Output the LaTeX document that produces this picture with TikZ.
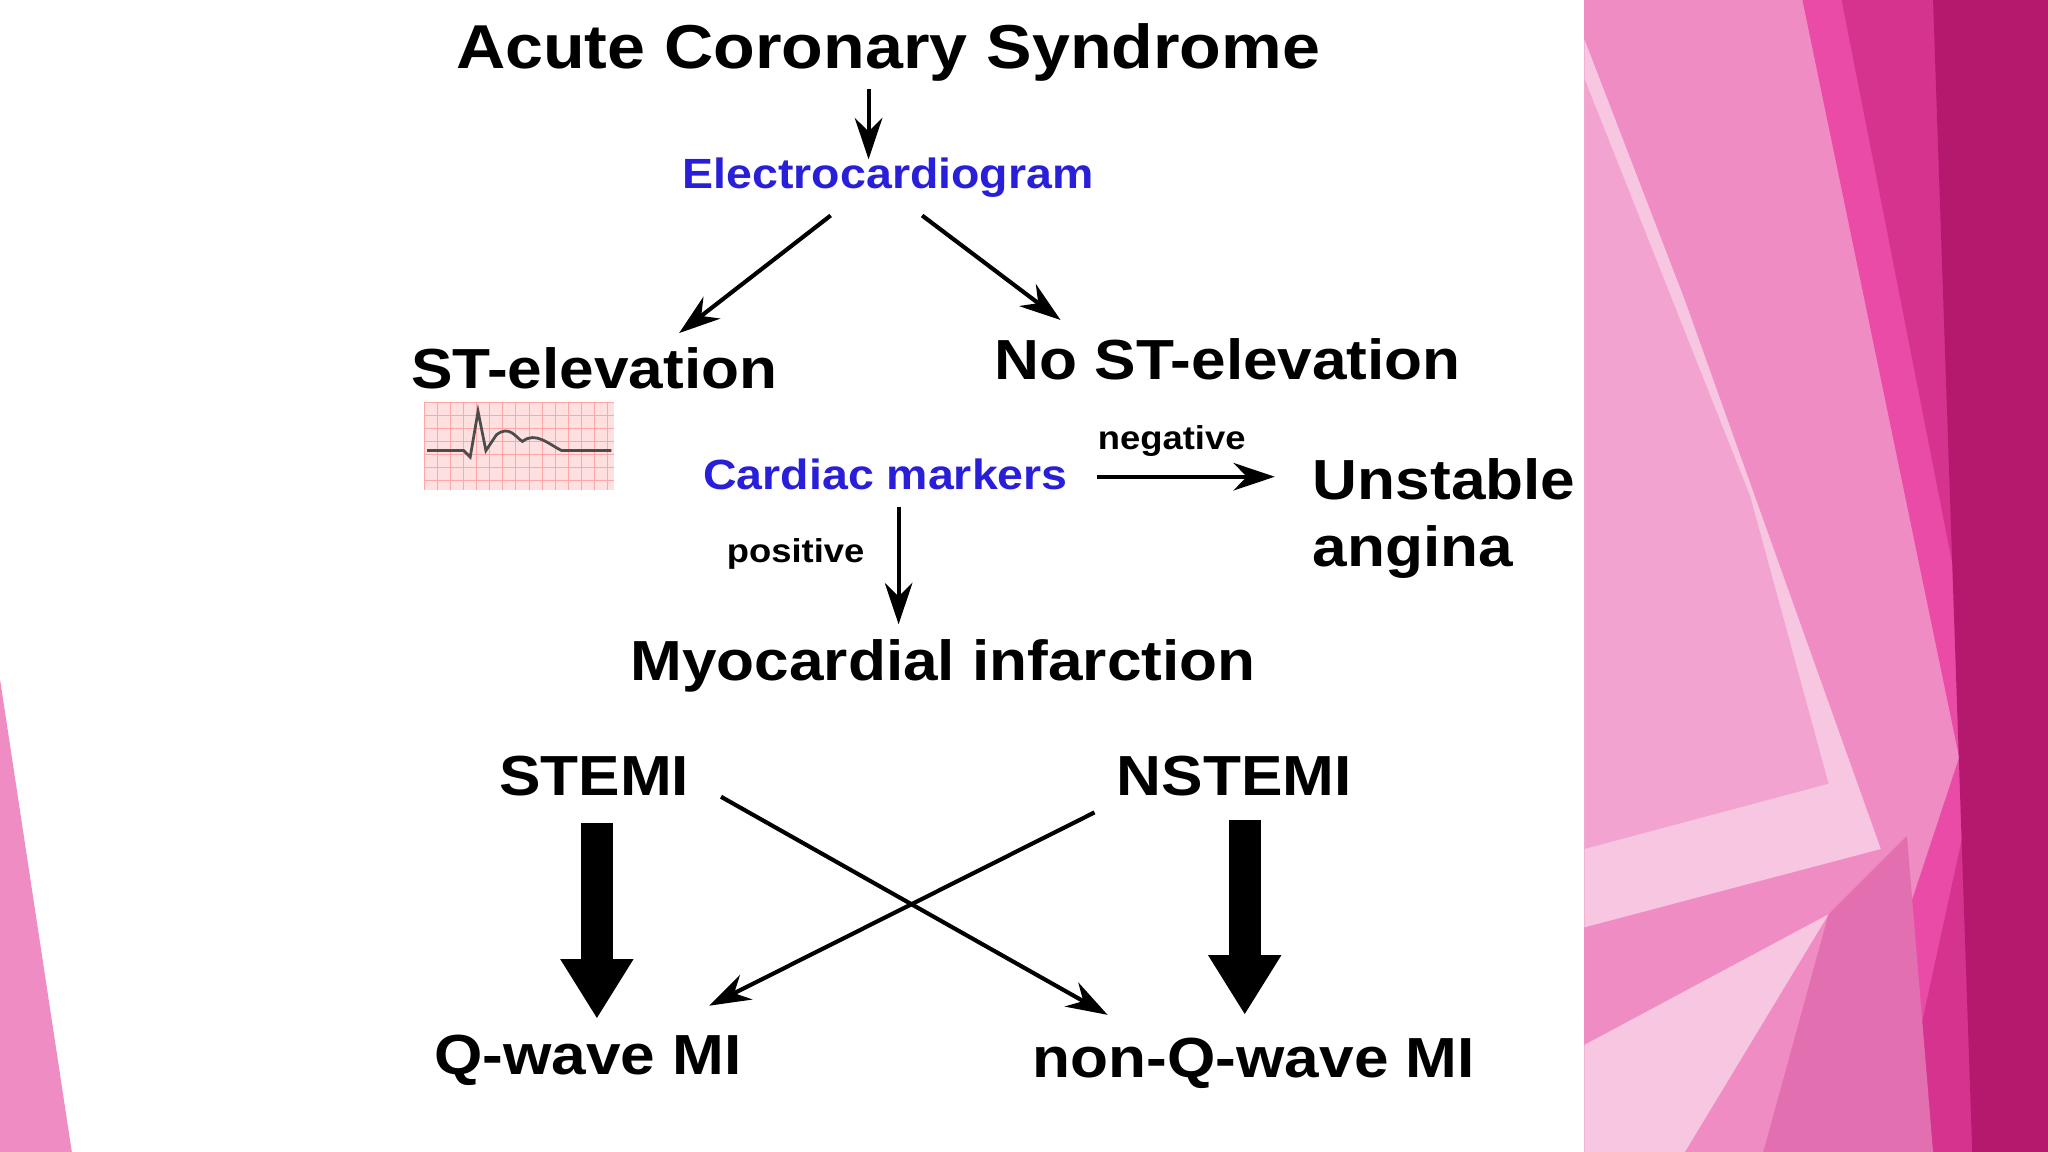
\documentclass[tikz,border=0pt]{standalone}
\usepackage{fontspec}
\setmainfont[FakeStretch=1.1]{Liberation Sans}
\usetikzlibrary{arrows.meta}
\definecolor{pk1}{HTML}{F08CC4}
\definecolor{pk2}{HTML}{D6338F}
\definecolor{pk3}{HTML}{B5196E}
\definecolor{pk4}{HTML}{F7C6E0}
\definecolor{pk5}{HTML}{E94BA6}
\definecolor{bl}{HTML}{2A1FD8}
\begin{document}
\begin{tikzpicture}[x=0.01cm,y=-0.01cm,
  lab/.style={font=\bfseries\fontsize{12.3}{14.5}\selectfont,inner sep=1pt},
  big/.style={font=\bfseries\fontsize{13.5}{15}\selectfont,inner sep=1pt},
  blu/.style={font=\bfseries\fontsize{9.2}{10}\selectfont,text=bl,inner sep=1pt},
  sm/.style={font=\bfseries\fontsize{7.2}{8}\selectfont,inner sep=1pt},
  arr/.style={-{Stealth[length=9pt,width=6pt]},line width=0.9pt},
  fat/.style={line width=7pt,-{Triangle[length=13pt,width=15pt]}}]
\useasboundingbox (0,0) rectangle (1568,882);
% background
\fill[white] (0,0) rectangle (1568,882);
\fill[pk1] (1213,0) rectangle (1568,882);
\fill[pk4] (1213,30) -- (1290,230) -- (1440,650) -- (1213,710) -- cycle;
\fill[pk1!80!white] (1213,60) -- (1340,380) -- (1400,600) -- (1213,650) -- cycle;
\fill[pk5] (1380,0) -- (1568,0) -- (1568,882) -- (1400,882) -- (1500,580) -- cycle;
\fill[pk2] (1410,0) -- (1568,0) -- (1568,882) -- (1450,882) -- (1520,560) -- cycle;
\fill[pk3] (1480,0) -- (1568,0) -- (1568,882) -- (1510,882) -- cycle;
\fill[pk4] (1213,882) -- (1213,800) -- (1400,700) -- (1290,882) -- cycle;
\fill[pk2!70!white] (1350,882) -- (1400,700) -- (1460,640) -- (1480,882) -- cycle;
\fill[pk1] (0,520) -- (55,882) -- (0,882) -- cycle;
% nodes
\node[big] (acs) at (680,40) {Acute Coronary Syndrome};
\node[blu] (ecg) at (680,136) {Electrocardiogram};
\node[lab] (ste) at (455,282) {ST-elevation};
\node[lab] (nste) at (940,275) {No ST-elevation};
\node[blu] (cm) at (678,363) {Cardiac markers};
\node[lab,align=left,anchor=west] (ua) at (1001,397) {Unstable\\angina};
\node[lab] (mi) at (722,510) {Myocardial infarction};
\node[lab] (stemi) at (455,594) {STEMI};
\node[lab] (nstemi) at (945,594) {NSTEMI};
\node[lab] (qw) at (450,812) {Q-wave MI};
\node[lab] (nqw) at (960,814) {non-Q-wave MI};
% ECG strip
\begin{scope}
\fill[red!12] (325,308) rectangle (470,375);
\foreach \x in {325,335,...,470} \draw[red!35,line width=0.2pt] (\x,308) -- (\x,375);
\foreach \y in {308,318,...,375} \draw[red!35,line width=0.2pt] (325,\y) -- (470,\y);
\draw[black!70,line width=0.6pt] (327,345) -- (355,345) -- (360,350) -- (366,315) -- (372,345) -- (380,333) .. controls (390,325) and (395,335) .. (400,338) .. controls (410,330) and (420,340) .. (430,345) -- (468,345);
\end{scope}
% connectors
\coordinate (a1) at (665,68); \coordinate (a2) at (665,122);
\draw[arr] (a1) -- (a2);
\draw[arr] (636,165) -- (520,255);
\draw[arr] (706,165) -- (812,245);
\draw[arr] (840,365) -- node[sm,above,pos=0.42,yshift=3pt]{negative} (976,365);
\draw[arr] (688,388) -- node[sm,left,pos=0.4,xshift=-6pt]{positive} (688,478);
\draw[fat] (457,630) -- (457,780);
\draw[fat] (953,628) -- (953,777);
\draw[arr] (552,610) -- (848,777);
\draw[arr] (838,622) -- (543,770);
\end{tikzpicture}
\end{document}
